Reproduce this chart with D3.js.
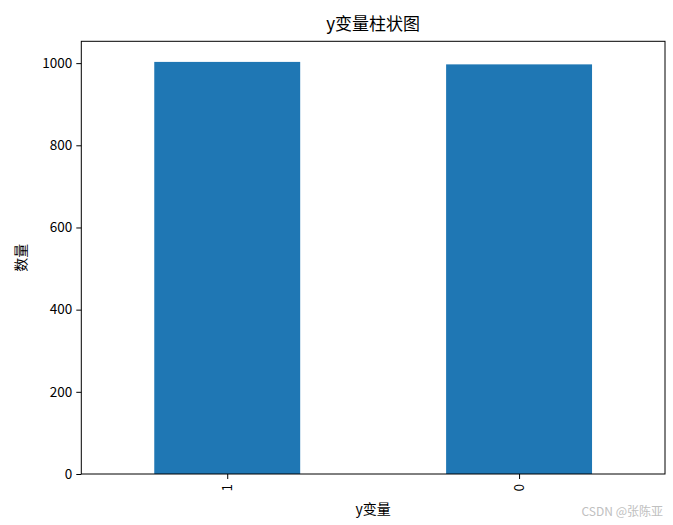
<!DOCTYPE html>
<html>
<head>
<meta charset="utf-8">
<script src="https://cdn.jsdelivr.net/npm/d3@7"></script>
<style>
    body { margin: 0; background: #fff; }
    text { font-family: "Noto Sans CJK SC", "DejaVu Sans", sans-serif; fill: #000; }
</style>
</head>
<body>
<script>
const categories = ["1", "0"];
const counts = [1003, 997];
const yTicks = [0, 200, 400, 600, 800, 1000];
const titleText = "y变量柱状图";
const xLabelText = "y变量";
const yLabelText = "数量";

class BarChart {
    constructor() {
        this.width = 673;
        this.height = 525;
        this.left = 81.3;
        this.right = 665;
        this.top = 41.3;
        this.bottom = 474;
        this.svg = d3.select("body").append("svg")
            .attr("width", this.width)
            .attr("height", this.height);
    }

    draw() {
        // pandas bar plot: bars at 0..n-1, width 0.5, xlim -0.5..n-0.5
        const x = d3.scaleLinear()
            .domain([-0.5, categories.length - 0.5])
            .range([this.left, this.right]);
        const y = d3.scaleLinear()
            .domain([0, d3.max(counts) * 1.05])
            .range([this.bottom, this.top]);

        this.svg.selectAll("rect.bar")
            .data(counts)
            .enter().append("rect")
            .attr("class", "bar")
            .attr("x", (d, i) => x(i - 0.25))
            .attr("y", d => y(d))
            .attr("width", (d, i) => x(i + 0.25) - x(i - 0.25))
            .attr("height", d => y(0) - y(d))
            .style("fill", "#1f77b4");

        const yAxis = this.svg.append("g")
            .attr("transform", `translate(${this.left},0)`)
            .call(d3.axisLeft(y).tickValues(yTicks).tickFormat(d3.format("d"))
                .tickSize(5).tickPadding(4));
        yAxis.select(".domain").remove();
        yAxis.selectAll("text").style("font-size", "13.5px");

        const xAxis = this.svg.append("g")
            .attr("transform", `translate(0,${this.bottom})`)
            .call(d3.axisBottom(x).tickValues(d3.range(categories.length))
                .tickFormat(i => categories[i]).tickSize(5).tickPadding(4));
        xAxis.select(".domain").remove();
        xAxis.selectAll("text")
            .style("font-size", "13.5px")
            .attr("text-anchor", "end")
            .attr("dy", "0.35em")
            .attr("transform", "translate(0,10) rotate(-90)")
            .attr("x", 0)
            .attr("y", 0);

        this.svg.selectAll(".tick line").style("stroke", "#000");

        this.svg.append("rect")
            .attr("x", this.left)
            .attr("y", this.top)
            .attr("width", this.right - this.left)
            .attr("height", this.bottom - this.top)
            .style("fill", "none")
            .style("stroke", "#000")
            .style("stroke-width", 1);

        this.svg.append("text")
            .attr("x", (this.left + this.right) / 2)
            .attr("y", 30)
            .attr("text-anchor", "middle")
            .style("font-size", "17px")
            .text(titleText);

        this.svg.append("text")
            .attr("x", (this.left + this.right) / 2)
            .attr("y", 514)
            .attr("text-anchor", "middle")
            .style("font-size", "14px")
            .text(xLabelText);

        this.svg.append("text")
            .attr("transform", `translate(26,${(this.top + this.bottom) / 2}) rotate(-90)`)
            .attr("text-anchor", "middle")
            .style("font-size", "14px")
            .text(yLabelText);

        this.svg.append("text")
            .attr("x", 663)
            .attr("y", 516)
            .attr("text-anchor", "end")
            .style("font-size", "12px")
            .style("fill", "#c0c0c0")
            .text("CSDN @张陈亚");
    }
}

window.onload = function() {
    const chart = new BarChart();
    chart.draw();
}
</script>
</body>
</html>
